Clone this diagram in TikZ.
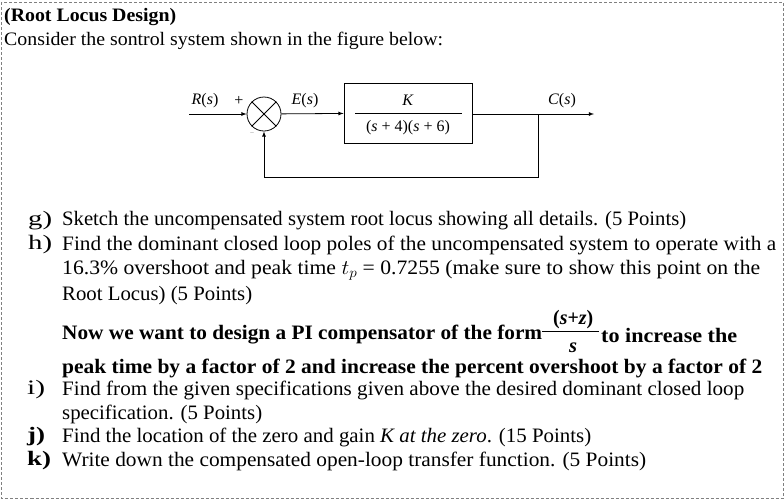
\documentclass[tikz,border=0pt]{standalone}
\usepackage{fontspec}
\setmainfont{Liberation Serif}
\usepackage{graphicx}
\newcommand\fl[2]{\resizebox{#1pt}{\height}{#2}}
\begin{document}
\begin{tikzpicture}[x=1pt,y=-1pt,
  txt/.style={anchor=west,inner sep=0pt,font=\fontsize{20.5}{20.5}\selectfont},
  top/.style={anchor=west,inner sep=0pt,font=\fontsize{19}{19}\selectfont},
  lbl/.style={inner sep=0pt,font=\fontsize{16}{16}\selectfont},
  sig/.style={-latex,line width=0.8pt},
  ln/.style={line width=0.8pt}]
\useasboundingbox (0,0) rectangle (784,499);
\draw[gray,densely dashed,line width=0.6pt] (1.5,2) rectangle (783,498);
\node[top] (t1) at (4,17) {\fl{172}{\textbf{(Root Locus Design)}}};
\node[top] (t2) at (4,41) {\fl{439}{Consider the sontrol system shown in the figure below:}};
% diagram
\coordinate (rin) at (189,114);
\node[draw,circle,minimum size=34pt,inner sep=0pt,line width=0.8pt] (sum) at (264,114) {};
\draw[line width=0.8pt] (sum.north west) -- (sum.south east) (sum.north east) -- (sum.south west);
\node[draw,minimum width=128pt,minimum height=60pt,line width=1pt] (G) at (408,113) {};
\node[lbl] (K) at (408,100) {\textit{K}};
\draw[line width=0.6pt] (355,113) -- (462,113);
\node[lbl] (den) at (408,128) {(\textit{s} + 4)(\textit{s} + 6)};
\coordinate (br) at (538,114);
\coordinate (out) at (594,114);
\coordinate (fb1) at (538,177);
\coordinate (fb2) at (264,177);
\draw[sig] (rin) -- (sum);
\draw[sig] (sum) -- (G);
\draw[ln] (G.east |- br) -- (br);
\draw[sig] (br) -- (out);
\draw[ln] (br) -- (fb1) -- (fb2);
\draw[sig] (fb2) -- (sum);
\node[lbl] (R) at (205,101) {\textit{R}(\textit{s})};
\node[lbl] (plus) at (239,101) {+};
\node[lbl,gray] (minus) at (252,134) {\scriptsize --};
\node[lbl] (E) at (305,101) {\textit{E}(\textit{s})};
\node[lbl] (C) at (562,101) {\textit{C}(\textit{s})};
% questions
\node[txt] (g) at (28,221) {\fl{24}{g)}};
\node[txt] (g1) at (62,221) {\fl{624}{Sketch the uncompensated system root locus showing all details. (5 Points)}};
\node[txt] (h) at (28,245) {\fl{24}{h)}};
\node[txt] (h1) at (62,245) {\fl{714}{Find the dominant closed loop poles of the uncompensated system to operate with a}};
\node[txt] (h2) at (62,270) {\fl{698}{16.3\% overshoot and peak time $t_p$ = 0.7255 (make sure to show this point on the}};
\node[txt] (h3) at (62,296) {\fl{190}{Root Locus) (5 Points)}};
\node[txt] (n1) at (62,335) {\fl{480}{\textbf{Now we want to design a PI compensator of the form}}};
\draw[line width=0.9pt] (542,331) -- (599,331);
\node[txt] (fz) at (553,320) {\fl{40}{\textbf{(\textit{s}+\textit{z})}}};
\node[txt] (fs) at (569,348) {\textbf{\textit{s}}};
\node[txt] (n2) at (601,335) {\fl{136}{\textbf{to increase the}}};
\node[txt] (n3) at (62,368) {\fl{700}{\textbf{peak time by a factor of 2 and increase the percent overshoot by a factor of 2}}};
\node[txt] (i) at (27,390) {\fl{18}{i)}};
\node[txt] (i1) at (62,390) {\fl{682}{Find from the given specifications given above the desired dominant closed loop}};
\node[txt] (i2) at (62,414) {\fl{200}{specification. (5 Points)}};
\node[txt] (j) at (27,437) {\fl{18}{\textbf{j)}}};
\node[txt] (j1) at (62,437) {\fl{529}{Find the location of the zero and gain \textit{K at the zero}. (15 Points)}};
\node[txt] (k) at (27,461) {\fl{24}{\textbf{k)}}};
\node[txt] (k1) at (62,461) {\fl{584}{Write down the compensated open-loop transfer function. (5 Points)}};
\end{tikzpicture}
\end{document}
